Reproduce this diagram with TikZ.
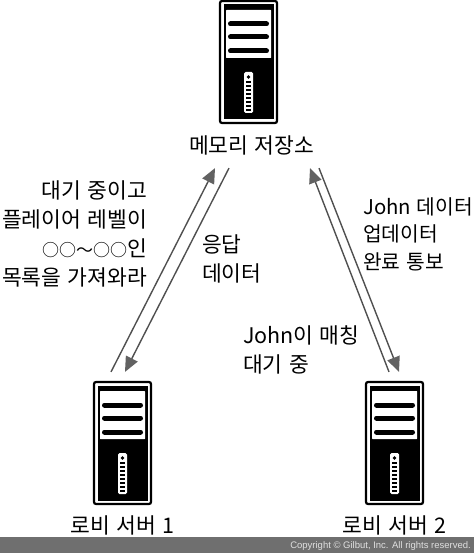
\documentclass[tikz,border=0pt]{standalone}
\usepackage{fontspec}
\setmainfont{Noto Sans CJK KR}[WordSpace=1.3]
\newfontfamily\latinfont{Liberation Sans}
\usepackage{tikz}
\usetikzlibrary{arrows.meta,positioning,calc}
\usepackage{xcolor}
\definecolor{arrowgray}{HTML}{505050}
\definecolor{tipgray}{HTML}{626262}
\definecolor{barcolor}{HTML}{6F6F6F}

\begin{document}
\begin{tikzpicture}[
    x=1pt, y=-1pt,
    node distance=6pt,
    towerbox/.style={
        rectangle,
        draw=black,
        line width=2.2pt,
        rounded corners=2pt,
        fill=white,
        minimum width=57pt,
        minimum height=122pt,
        inner sep=0pt
    },
    towerlabel/.style={
        font=\fontsize{21.5}{24}\selectfont,
        inner sep=0pt,
        text height=16pt,
        text depth=3pt
    },
    caption/.style={
        font=\fontsize{21.5}{29}\selectfont,
        inner sep=0pt
    },
    arrow/.style={-{Triangle[length=15pt,width=13pt,color=tipgray]}, draw=arrowgray, line width=1.4pt},
    tower/.pic={
        \fill[black] (-25,-57.5) rectangle (25,57.5);
        \fill[white, rounded corners=0.5pt] (-22.5,-52) rectangle (22.5,-4);
        \foreach \bary in {-38,-25,-11}
            \draw[black, line width=5pt, line cap=round] (-18,\bary) -- (18,\bary);
        \fill[white, rounded corners=1.5pt] (-4.5,10) rectangle (4.5,51);
        \fill[black] (0,15) circle (1.8pt);
        \foreach \venty in {20,24,...,48}
            \draw[black, line width=2.2pt] (-2.5,\venty) -- (2.5,\venty);
    }
]
\useasboundingbox (0,0) rectangle (474,553);

% servers
\node[towerbox] (store) at (248.5,62) {};
\node[towerbox] (lobbyA) at (122.5,443) {};
\node[towerbox] (lobbyB) at (394.5,443) {};
\pic at (store) {tower};
\pic at (lobbyA) {tower};
\pic at (lobbyB) {tower};

\node[towerlabel, below=13pt of store, xshift=3pt] (storename) {메모리 저장소};
\node[towerlabel, below=12pt of lobbyA] (lobbyAname) {로비 서버 1};
\node[towerlabel, below=12pt of lobbyB] (lobbyBname) {로비 서버 2};

% arrow ends
\coordinate (storeLa) at ($(store.south)+(-33.5,44)$);
\coordinate (storeLb) at ($(store.south)+(-19.5,44)$);
\coordinate (storeRa) at ($(store.south)+(61.5,44)$);
\coordinate (storeRb) at ($(store.south)+(70.5,44)$);
\coordinate (lobbyAa) at ($(lobbyA.north)+(-11.5,-9)$);
\coordinate (lobbyAb) at ($(lobbyA.north)+(2.5,-9)$);
\coordinate (lobbyBa) at ($(lobbyB.north)+(-5.5,-9)$);
\coordinate (lobbyBb) at ($(lobbyB.north)+(4.5,-9)$);

\draw[arrow] (lobbyAa) -- (storeLa);
\draw[arrow] (storeLb) -- (lobbyAb);
\draw[arrow] (lobbyBa) -- (storeRa);
\draw[arrow] (storeRb) -- (lobbyBb);

% captions
\node[caption, align=right, anchor=north east] (request) at (147,180.5)
{대기 중이고\\플레이어 레벨이\\{\fontsize{17}{29}\selectfont ○○～○○}인\\목록을 가져와라};
\node[caption, align=left, anchor=north west] (reply) at (202,234.5)
{응답\\데이터};
\node[caption, align=left, anchor=north west] (waiting) at (243,326)
{John이 매칭\\대기 중};
\node[caption, align=left, anchor=north west, font=\fontsize{20.3}{27.5}\selectfont] (done) at (363,197.5)
{John 데이터\\업데이터\\완료 통보};

% copyright strip
\fill[barcolor] (0,537) rectangle (474,553);
\node[anchor=east, inner sep=0pt, text=white!88!black, font=\latinfont\fontsize{9.5}{10}\selectfont] (copyright) at (471,546.5)
{Copyright © Gilbut, Inc. All rights reserved.};

\end{tikzpicture}
\end{document}
